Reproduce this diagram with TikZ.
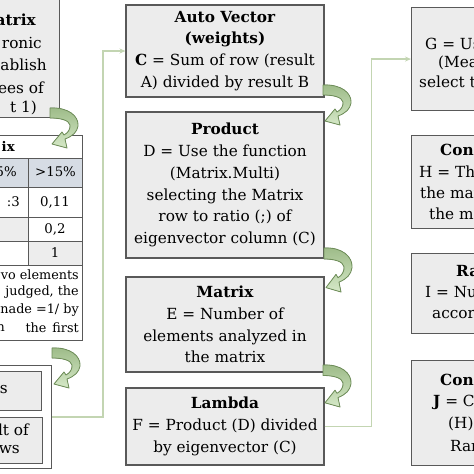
\documentclass[tikz,border=0pt]{standalone}
\usepackage{fontspec}
\setmainfont{DejaVu Serif}
\usetikzlibrary{arrows.meta}
\definecolor{boxgray}{HTML}{ECECEC}
\definecolor{boxline}{HTML}{595959}
\definecolor{hdrblue}{HTML}{D6DCE4}
\definecolor{cellgray}{HTML}{EDEDED}
\definecolor{arrtop}{HTML}{9DBB88}
\definecolor{arrbot}{HTML}{D5E8C7}
\definecolor{arrline}{HTML}{6E8E58}
\definecolor{conn}{HTML}{C3D5B2}
\tikzset{
  box/.style={draw=boxline, fill=boxgray, line width=1.1pt, align=center, inner sep=0pt,
    font=\fontsize{15.3}{21.8}\selectfont},
  frag/.style={inner sep=0pt, font=\fontsize{15.3}{21.8}\selectfont},
  cellt/.style={inner sep=0pt, font=\fontsize{13.3}{16}\selectfont},
  smallt/.style={inner sep=0pt, font=\fontsize{12.8}{17.7}\selectfont},
  grid/.style={draw=boxline, line width=0.8pt},
  connector/.style={draw=conn, line width=1.3pt, -{Stealth[length=6pt,width=5pt]}},
  carrow/.pic={
    \filldraw[top color=arrtop, bottom color=arrbot, draw=arrline, line width=0.8pt, line join=round]
      (0,0) .. controls (18,-1) and (29,8) .. (28,18)
      .. controls (27,24) and (23,28) .. (15,31)
      -- (17,40) -- (2,36) -- (12,24) -- (14,27)
      .. controls (18,25) and (20.5,21) .. (20,17)
      .. controls (19,12) and (10,10) .. (0,10) -- cycle;
  }
}
\begin{document}
\begin{tikzpicture}[x=1pt, y=-1pt]
\useasboundingbox (0,0) rectangle (474,474);
\clip (0,0) rectangle (474,474);
\fill[white] (0,0) rectangle (474,474);

% ---------- left column ----------
\node[box, anchor=south east, minimum width=90pt, minimum height=124pt] (ltop) at (60,118) {};
\node[frag, anchor=east] (l1) at (36,20) {\textbf{atrix}};
\node[frag, anchor=east] (l2) at (42,43) {ronic};
\node[frag, anchor=east] (l3) at (47,65) {ablish};
\node[frag, anchor=east] (l4) at (44,88) {ees of};
\node[frag, anchor=east] (l5) at (37,108) {t 1)};

% table
\fill[hdrblue] (-5,158) rectangle (83,187);
\fill[cellgray] (-5,217) rectangle (28,241);
\fill[cellgray] (28,241) rectangle (83,265);
\draw[grid] (-5,158) -- (83,158);
\draw[grid] (-5,187) -- (83,187);
\draw[grid] (-5,217) -- (83,217);
\draw[grid] (-5,241) -- (83,241);
\draw[grid] (-5,265) -- (83,265);
\draw[grid] (28,158) -- (28,265);
\node[draw=boxline, line width=1.1pt, anchor=north east, minimum width=100pt, minimum height=205pt, inner sep=0pt] (tbl) at (83,135) {};
\node[cellt, anchor=east] (c0) at (15,146) {\textbf{ix}};
\node[cellt, anchor=east] (c1) at (17,172) {5\%};
\node[cellt] (c2) at (55.5,172) {>15\%};
\node[cellt, anchor=east] (c3) at (20,202) {:3};
\node[cellt] (c4) at (55,202) {0,11};
\node[cellt] (c5) at (55,229) {0,2};
\node[cellt] (c6) at (55,253) {1};
\node[smallt, anchor=east] (p1) at (79,275) {vo elements};
\node[smallt, anchor=east] (p2) at (79,292.5) {judged, the};
\node[smallt, anchor=east] (p3) at (79,310) {nade =1/ by};
\node[smallt, anchor=east] (p4a) at (5,328) {n};
\node[smallt] (p4b) at (36,328) {the};
\node[smallt, anchor=east] (p4c) at (79,328) {first};

% bottom-left group
\node[draw=boxline, fill=white, line width=1.1pt, anchor=north east, minimum width=80pt, minimum height=103pt, inner sep=0pt] (blo) at (52,365) {};
\node[box, anchor=north east, minimum width=60pt, minimum height=39pt] (bs) at (42,371) {};
\node[box, anchor=north east, minimum width=60pt, minimum height=46pt] (br) at (43,417) {};
\node[frag, anchor=east] (b1) at (8,390) {s};
\node[frag, anchor=east] (b2) at (29,430) {lt of};
\node[frag, anchor=east] (b3) at (20,450) {ws};

% ---------- middle column ----------
\node[box, minimum width=198pt, minimum height=92pt] (av) at (225,51)
  {\textbf{Auto Vector}\\ \textbf{(weights)}\\ \textbf{C} = Sum of row (result\\ A) divided by result B};
\node[box, minimum width=198pt, minimum height=146pt] (prod) at (225,185)
  {\textbf{Product}\\ D = Use the function\\ (Matrix.Multi)\\ selecting the Matrix\\ row to ratio (;) of\\ eigenvector column (C)};
\node[box, minimum width=198pt, minimum height=95pt] (mat) at (225,324.5)
  {\textbf{Matrix}\\ E = Number of\\ elements analyzed in\\ the matrix};
\node[box, minimum width=198pt, minimum height=77pt] (lam) at (225,426.5)
  {\textbf{Lambda}\\ F = Product (D) divided\\ by eigenvector (C)};

% ---------- right column ----------
\node[box, anchor=north west, minimum width=110pt, minimum height=103pt] (gbox) at (411,7) {};
\node[box, anchor=north west, minimum width=110pt, minimum height=93pt] (hbox) at (411,135) {};
\node[box, anchor=north west, minimum width=110pt, minimum height=80pt] (ibox) at (411,253) {};
\node[box, anchor=north west, minimum width=110pt, minimum height=105pt] (jbox) at (411,360) {};
\node[frag, anchor=west] (g1) at (425,44) {G = Us};
\node[frag, anchor=west] (g2) at (438,63) {(Mean};
\node[frag, anchor=west] (g3) at (419,82) {select th};
\node[frag, anchor=west] (h1) at (440,150) {\textbf{Cons}};
\node[frag, anchor=west] (h2) at (419,172) {H = The};
\node[frag, anchor=west] (h3) at (420,193) {the mat};
\node[frag, anchor=west] (h4) at (429,214) {the ma};
\node[frag, anchor=west] (i1) at (456,271) {\textbf{Rat}};
\node[frag, anchor=west] (i2) at (425,292) {I = Num};
\node[frag, anchor=west] (i3) at (432,313) {accord};
\node[frag, anchor=west] (j1) at (440,380) {\textbf{Cons}};
\node[frag, anchor=west] (j2) at (433,402) {\textbf{J} = C};
\node[frag, anchor=west] (j3) at (448,424) {(H) d};
\node[frag, anchor=west] (j4) at (450,446) {Ran};

% ---------- connectors ----------
\draw[connector] (blo.east) -- ++(51,0) |- (av.west);
\draw[connector] (lam.east) -- ++(47,0) |- (gbox.west);

% curved arrows
\pic at (50,108) {carrow};
\pic at (52,348) {carrow};
\pic at (323,85) {carrow};
\pic[yscale=1.1] at (324,248) {carrow};
\pic[yscale=1.05] at (323,365) {carrow};
\end{tikzpicture}
\end{document}
